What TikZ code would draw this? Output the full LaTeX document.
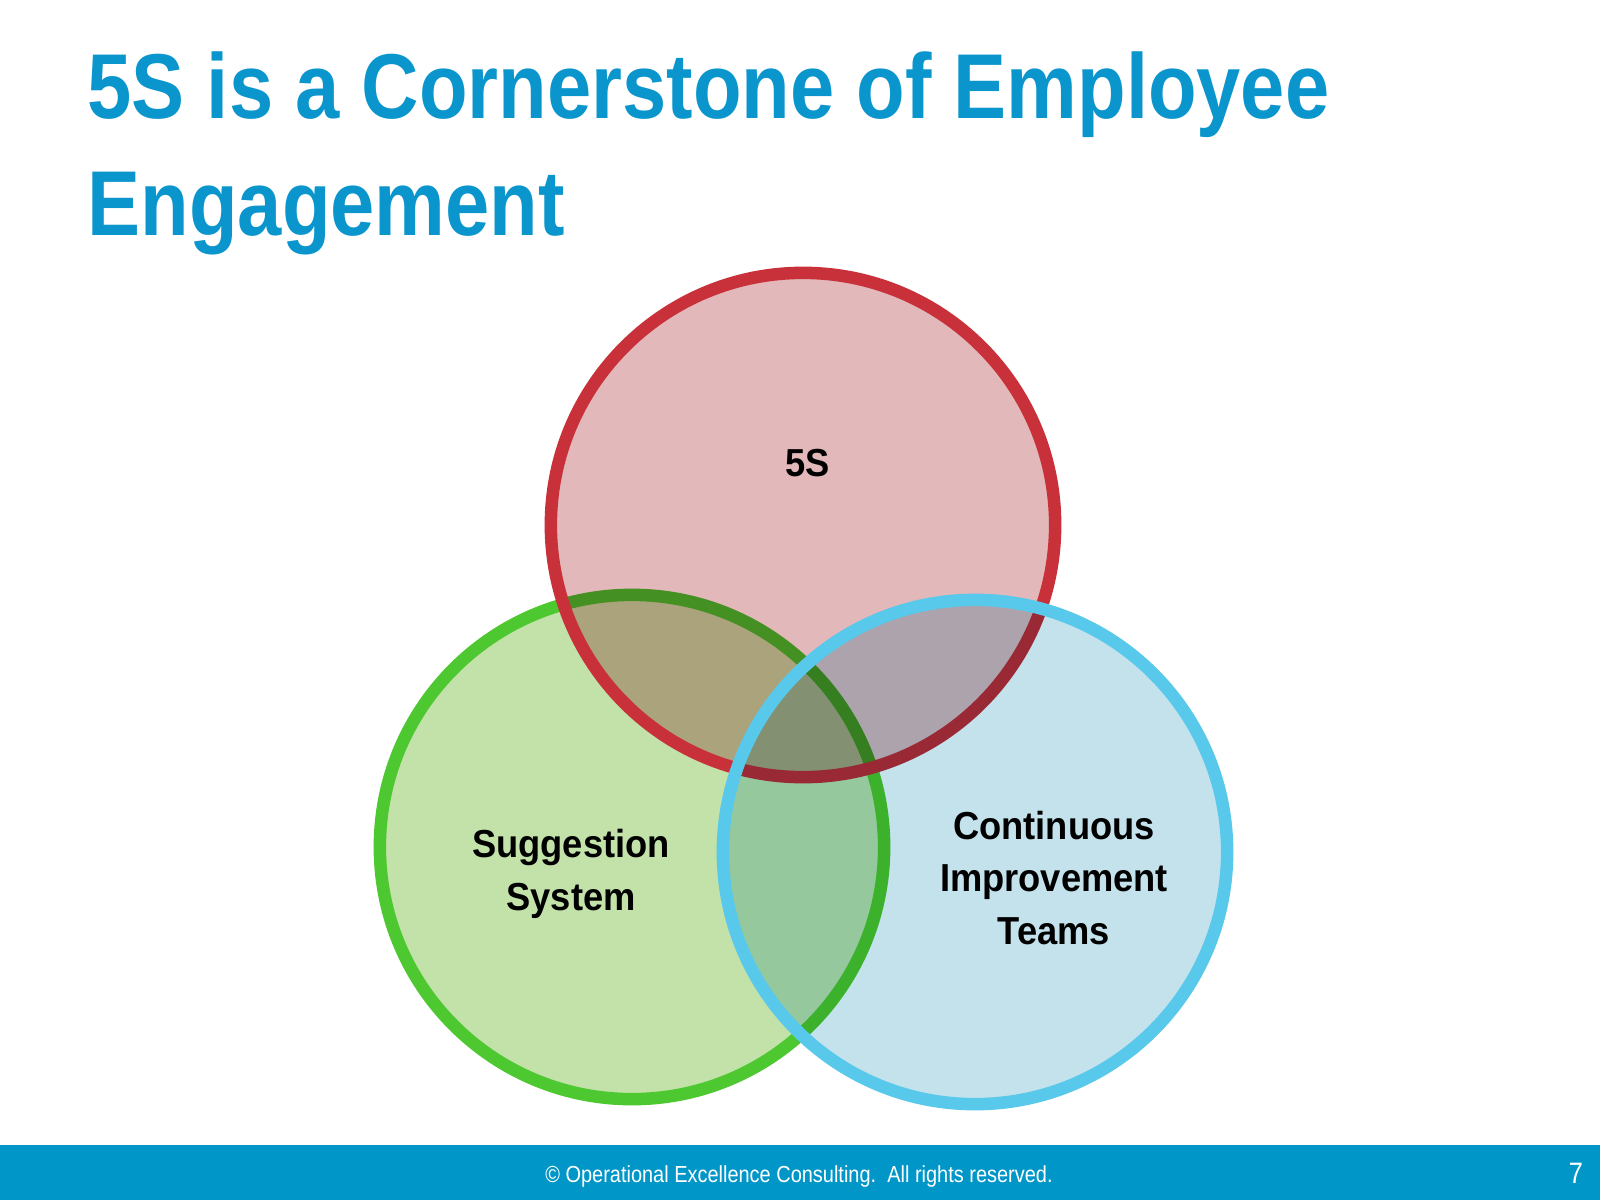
\documentclass[tikz,border=0pt]{standalone}
\usepackage{fontspec}
\setmainfont{Liberation Sans}
\newfontfamily\titlefont{Liberation Sans}[FakeStretch=0.863]
\newfontfamily\labelfont{Liberation Sans}[FakeStretch=0.93]
\newfontfamily\footfont{Liberation Sans}[FakeStretch=0.86]
\definecolor{titleblue}{RGB}{10,150,205}
\definecolor{footblue}{RGB}{0,150,200}
\definecolor{rring}{RGB}{200,48,58}
\definecolor{gring}{RGB}{78,200,48}
\definecolor{bring}{RGB}{88,200,235}
\definecolor{rfill}{RGB}{226,184,186}
\definecolor{gfill}{RGB}{194,226,170}
\definecolor{bfill}{RGB}{196,226,236}
\begin{document}
\begin{tikzpicture}[x=0.01cm,y=-0.01cm,
  venn/.style={circle, minimum size=5.04cm, inner sep=0pt, outer sep=0pt, draw=none},
  ring/.style={line width=0.125cm},
  lbl/.style={font=\labelfont\bfseries\fontsize{11.1}{15}\selectfont, align=center, text=black, inner sep=0pt},
  ttl/.style={anchor=base west, inner sep=0pt, text=titleblue, font=\titlefont\bfseries\fontsize{26.2}{33}\selectfont}]
\useasboundingbox (0,0) rectangle (1600,1200);
\fill[white] (0,0) rectangle (1600,1200);
% title
\node[ttl] (t1) at (87,118) {5S is a Cornerstone of Employee};
\node[ttl] (t2) at (87,235) {Engagement};
% green circle
\begin{scope}[blend mode=multiply]
\node[venn, fill=gfill] (gc) at (632,847) {};
\end{scope}
\draw[ring, gring] (gc.center) circle[radius=2.52cm];
% red circle
\begin{scope}[blend mode=multiply]
\node[venn, fill=rfill] (rc) at (803,525) {};
\end{scope}
\draw[ring, rring] (rc.center) circle[radius=2.52cm];
% blue circle
\begin{scope}[blend mode=multiply]
\node[venn, fill=bfill] (bc) at (975,852) {};
\end{scope}
\draw[ring, bring] (bc.center) circle[radius=2.52cm];
% labels
\node[lbl] (l5s) at (808,463) {5S};
\node[lbl] (lss) at (571,874) {Suggestion\\System};
\node[lbl] (lci) at (1054,878) {Continuous\\Improvement\\Teams};
% footer
\fill[footblue] (0,1145) rectangle (1600,1200);
\node[text=white, inner sep=0pt, font=\footfont\fontsize{6.6}{8}\selectfont] (foot) at (799,1176) {© Operational Excellence Consulting.\ \ All rights reserved.};
\node[text=white, inner sep=0pt, font=\footfont\fontsize{8.4}{10}\selectfont] (pg) at (1576,1173) {7};
\end{tikzpicture}
\end{document}
